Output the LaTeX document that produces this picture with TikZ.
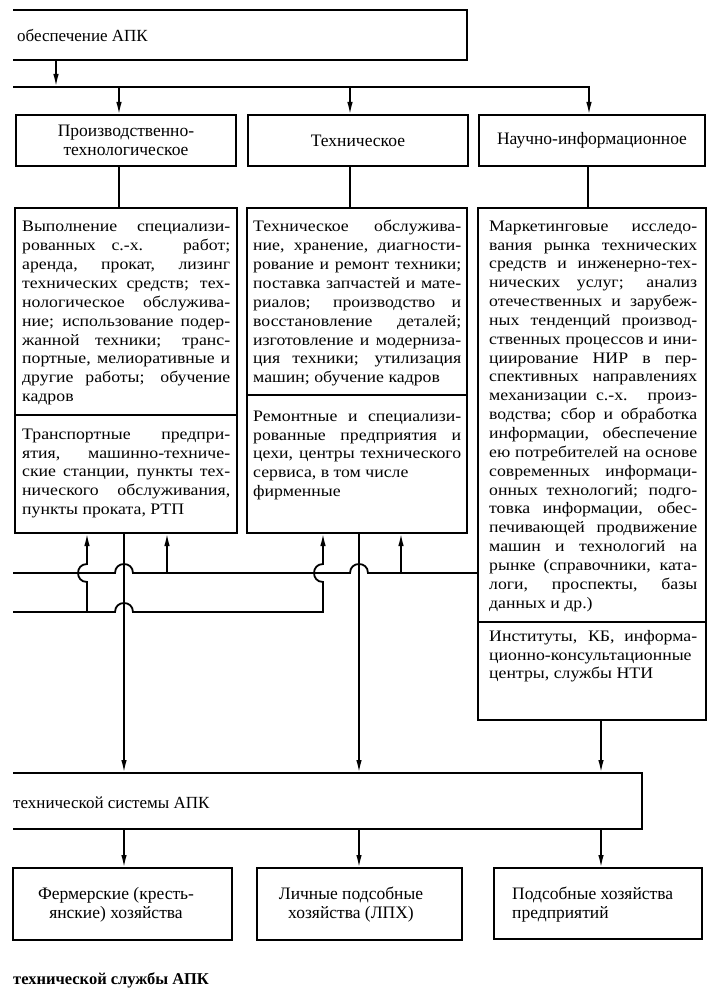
\documentclass[tikz,border=0pt]{standalone}
\usepackage{fontspec}
\setmainfont{Liberation Serif}
\newfontfamily\bodyfont{Liberation Serif}[FakeStretch=1.11]
\usetikzlibrary{arrows.meta}
\hbadness=10000 \vbadness=10000 \hfuzz=3pt
\tolerance=10000 \hyphenpenalty=10000 \exhyphenpenalty=10000
\begin{document}
\begin{tikzpicture}[x=1pt,y=-1pt,
  ln/.style={line width=1.8pt},
  arr/.style={ln,-{Latex[length=13pt,width=5.5pt]}},
  box/.style={draw,ln,inner sep=0pt,outer sep=0pt,anchor=north west},
  body/.style={inner sep=0pt,anchor=north west,text width=208pt,align=justify,
    font=\bodyfont\fontsize{16}{18.85}\selectfont},
  head/.style={inner sep=0pt,align=center,font=\fontsize{17.5}{19}\selectfont},
  lbl/.style={inner sep=0pt,anchor=west,font=\fontsize{17}{19}\selectfont}]
\useasboundingbox (0,0) rectangle (721,1000);
% columns
\coordinate (k0) at (56,0);  \coordinate (k1) at (119,0);
\coordinate (k2) at (350,0); \coordinate (k3) at (589,0);
\coordinate (u1) at (87,0);  \coordinate (d1) at (124,0);
\coordinate (u2) at (167,0); \coordinate (u3) at (323,0);
\coordinate (d2) at (359,0); \coordinate (u4) at (401,0);
\coordinate (d3) at (601,0);
% top box (open at left)
\coordinate (tNW) at (13,10); \coordinate (tSE) at (467,60);
\draw[ln] (tNW) -| (tSE) -- (tSE -| tNW);
\node[lbl] (tt) at (17,36) {обеспечение АПК};
% bus
\coordinate (busW) at (13,87); \coordinate (busE) at (589,87);
% header boxes
\node[box,head,minimum width=220pt,minimum height=51pt] (s1) at (16,115) {Производственно-\\технологическое};
\node[box,head,minimum width=220pt,minimum height=51pt] (s2) at (248,115) {Техническое};
\node[box,head,minimum width=226pt,minimum height=51pt] (s3) at (479,115) {Научно-информационное};
\draw[arr] (k0 |- tSE) -- (k0 |- busW);
\draw[arr] (busW) -- (busE) -- (k3 |- s3.north);
\draw[arr] (k1 |- busW) -- (k1 |- s1.north);
\draw[arr] (k2 |- busW) -- (k2 |- s2.north);
% big boxes
\node[box,minimum width=222pt,minimum height=207pt] (p1a) at (15,208) {};
\node[box,minimum width=222pt,minimum height=118pt] (p1b) at (15,415) {};
\node[box,minimum width=220pt,minimum height=187pt] (p2a) at (247,208) {};
\node[box,minimum width=220pt,minimum height=138pt] (p2b) at (247,395) {};
\node[box,minimum width=228pt,minimum height=414pt] (p3a) at (478,208) {};
\node[box,minimum width=228pt,minimum height=98pt] (p3b) at (478,622) {};
\draw[ln] (k1 |- s1.south) -- (k1 |- p1a.north);
\draw[ln] (k2 |- s2.south) -- (k2 |- p2a.north);
\draw[ln] ([xshift=-1pt]k3 |- s3.south) -- ([xshift=-1pt]k3 |- p3a.north);
% texts
\node[body] (t1a) at (22,218.6) {\strut Выполнение специализи-\linebreak рованных с.-х. работ;\linebreak аренда, прокат, лизинг\linebreak технических средств; тех-\linebreak нологическое обслужива-\linebreak ние; использование подер-\linebreak жанной техники; транс-\linebreak портные, мелиоративные и\linebreak другие работы; обучение\linebreak кадров};
\node[body] (t1b) at (22,425.8) {\strut Транспортные предпри-\linebreak ятия, машинно-техниче-\linebreak ские станции, пункты тех-\linebreak нического обслуживания,\linebreak пункты проката, РТП};
\node[body] (t2a) at (253,218.6) {\strut Техническое обслужива-\linebreak ние, хранение, диагности-\linebreak рование и ремонт техники;\linebreak поставка запчастей и мате-\linebreak риалов; производство и\linebreak восстановление деталей;\linebreak изготовление и модерниза-\linebreak ция техники; утилизация\linebreak машин; обучение кадров};
\node[body] (t2b) at (253,407.8) {\strut Ремонтные и специализи-\linebreak рованные предприятия и\linebreak цехи, центры технического\linebreak сервиса, в том числе\\ фирменные};
\node[body] (t3a) at (489,217.8) {\strut Маркетинговые исследо-\linebreak вания рынка технических\linebreak средств и инженерно-тех-\linebreak нических услуг; анализ\linebreak отечественных и зарубеж-\linebreak ных тенденций производ-\linebreak ственных процессов и ини-\linebreak циирование НИР в пер-\linebreak спективных направлениях\linebreak механизации с.-х. произ-\linebreak водства; сбор и обработка\linebreak информации, обеспечение\linebreak ею потребителей на основе\linebreak современных информаци-\linebreak онных технологий; подго-\linebreak товка информации, обес-\linebreak печивающей продвижение\linebreak машин и технологий на\linebreak рынке (справочники, ката-\linebreak логи, проспекты, базы\linebreak данных и др.)};
\node[body] (t3b) at (489,627.8) {\strut Институты, КБ, информа-\linebreak ционно-консультационные\linebreak центры, службы НТИ};
% connectors below the boxes
\coordinate (A0) at (13,573); \coordinate (B0) at (13,612);
\draw[ln] (A0) -- (115,573) .. controls (115,561) and (133,561) .. (133,573)
  -- (350,573) .. controls (350,561) and (368,561) .. (368,573) -- (p3a.west |- A0);
\draw[arr] (B0) -- (115,612) .. controls (115,600) and (133,600) .. (133,612)
  -- (u3 |- B0) -- (323,582) .. controls (311,582) and (311,564) .. (323,564) -- (u3 |- p2b.south);
\draw[arr] (u1 |- B0) -- (87,582) .. controls (75,582) and (75,564) .. (87,564) -- (u1 |- p1b.south);
\draw[arr] (u2 |- A0) -- (u2 |- p1b.south);
\draw[arr] (u4 |- A0) -- (u4 |- p2b.south);
% system box (open at left)
\coordinate (sNW) at (13,773); \coordinate (sSE) at (642,829);
\draw[ln] (sNW) -| (sSE) -- (sSE -| sNW);
\node[lbl] (st) at (13,803) {технической системы АПК};
\draw[arr] (d1 |- p1b.south) -- (d1 |- sNW);
\draw[arr] (d2 |- p2b.south) -- (d2 |- sNW);
\draw[arr] (d3 |- p3b.south) -- (d3 |- sNW);
% bottom boxes
\node[box,minimum width=219pt,minimum height=72pt] (f1) at (13,868) {};
\node[head] (f1t) at (116,905) {Фермерские (кресть-\\янские) хозяйства};
\node[box,minimum width=205pt,minimum height=72pt] (f2) at (257,868) {};
\node[head] (f2t) at (351,905) {Личные подсобные\\хозяйства (ЛПХ)};
\node[box,minimum width=208pt,minimum height=71pt] (f3) at (494,868) {};
\node[head,align=left,anchor=west] (f3t) at (512,905) {Подсобные хозяйства\\предприятий};
\draw[arr] (d1 |- sSE) -- (d1 |- f1.north);
\draw[arr] (d2 |- sSE) -- (d2 |- f2.north);
\draw[arr] (d3 |- sSE) -- (d3 |- f3.north);
\node[lbl,font=\bfseries\fontsize{16.5}{19}\selectfont] (ft) at (13,980) {технической службы АПК};
\end{tikzpicture}
\end{document}
